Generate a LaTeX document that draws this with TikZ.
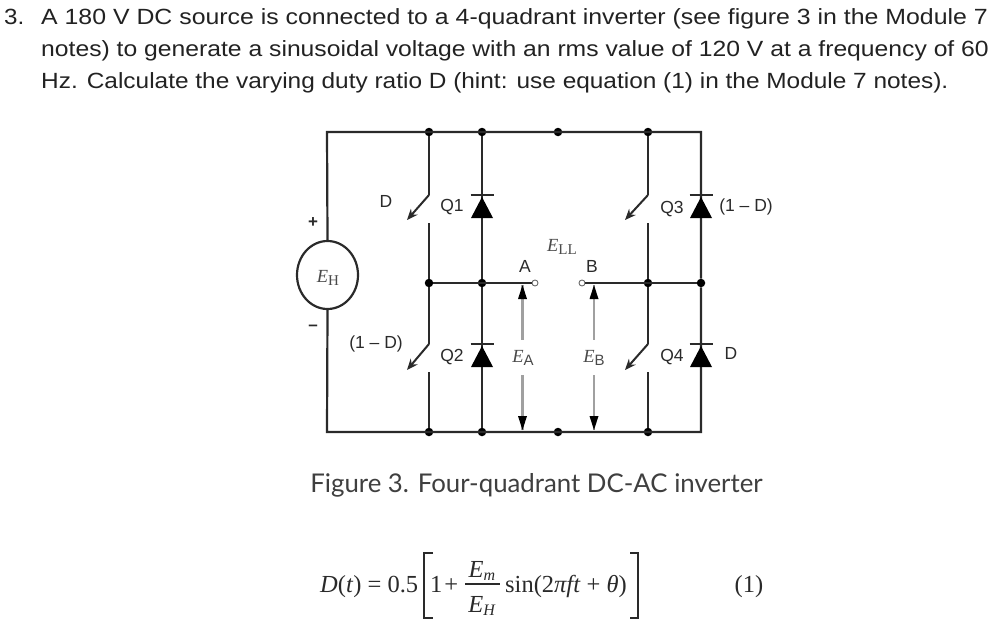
\documentclass[tikz,border=0pt]{standalone}
\usepackage{fontspec}
\setmainfont{Liberation Sans}
\newfontfamily\capfont{Lato}
\newfontfamily\eqfont{Liberation Serif}
\usetikzlibrary{arrows.meta,shapes.geometric}
\definecolor{ink}{HTML}{2A2A2A}
\definecolor{txt}{HTML}{222222}
\definecolor{shaft}{HTML}{A0A0A0}
\newcommand{\subsc}[1]{\raisebox{-2.5pt}{\fontsize{15}{16}\selectfont #1}}
\tikzset{
 x=1pt,y=-1pt,
 wire/.style={draw=ink,line width=2.2pt},
 dot/.style={circle,fill=black,inner sep=0pt,minimum size=8.5pt},
 term/.style={circle,draw=ink!70,fill=white,line width=.9pt,inner sep=0pt,minimum size=6pt},
 para/.style={font=\fontsize{22}{24}\selectfont,text=txt,anchor=base west,inner sep=0pt},
 lab/.style={font=\fontsize{17.5}{20}\selectfont,text=ink,inner sep=0pt},
 vlab/.style={font=\fontsize{18.5}{20}\selectfont\eqfont,text=ink!85,inner sep=0pt},
 eq/.style={font=\fontsize{24.5}{26}\selectfont\eqfont,text=ink,inner sep=0pt,anchor=base},
 blade/.style={draw=ink,line width=2pt,-{Stealth[length=11pt,width=9pt]}},
 meas/.style={draw=shaft,line width=2.2pt},
 bracket/.style={draw=ink,line width=1.4pt},
 diode/.pic={\fill[black] (0,2)--(11,23)--(-11,23)--cycle; \draw[ink,line width=2pt] (-11.5,0)--(11.5,0);},
 uphead/.pic={\fill[black] (0,0)--(4.5,14)--(-4.5,14)--cycle;},
 downhead/.pic={\fill[black] (0,0)--(4.5,-14)--(-4.5,-14)--cycle;},
}
\begin{document}
\begin{tikzpicture}
\useasboundingbox (0,0) rectangle (992,624);
% question text
\node[para] at (4,24) {\addfontfeature{FakeStretch=1.1}3.};
\node[para] at (41,24) {\addfontfeature{FakeStretch=1.13}A 180 V DC source is connected to a 4-quadrant inverter (see figure 3 in the Module 7};
\node[para] at (41,56) {\addfontfeature{FakeStretch=1.123}notes) to generate a sinusoidal voltage with an rms value of 120 V at a frequency of 60};
\node[para] at (41,88) {\addfontfeature{FakeStretch=1.11}Hz. Calculate the varying duty ratio D (hint: use equation (1) in the Module 7 notes).};
% frame coordinates
\coordinate (tl) at (327,132); \coordinate (tr) at (701,132);
\coordinate (bl) at (327,432); \coordinate (br) at (701,432);
\node[dot] (t1) at (429,132) {}; \node[dot] (t2) at (482,132) {};
\node[dot] (t3) at (558,132) {}; \node[dot] (t4) at (648,132) {};
\node[dot] (b1) at (429,432) {}; \node[dot] (b2) at (482,432) {};
\node[dot] (b3) at (558,432) {}; \node[dot] (b4) at (648,432) {};
\node[dot] (m1) at (429,283) {}; \node[dot] (m2) at (482,283) {};
\node[dot] (m3) at (648,283) {}; \node[dot] (m4) at (701,283) {};
\node[term] (ta) at (535,283) {}; \node[term] (tb) at (582,283) {};
% source
\node[draw=ink,line width=2.2pt,ellipse,minimum width=61pt,minimum height=68pt,inner sep=0pt] (src) at (327.5,275) {};
\node[vlab] at (328,278) {\textit{E}\subsc{H}};
% frame wires
\draw[wire,line join=miter] (src.north) -- (tl) -- (tr) -- (m4) -- (br) -- (bl) -- (src.south);
\draw[wire] (t2) -- (m2) -- (b2);
\draw[wire] (m1) -- (ta);
\draw[wire] (tb) -- (m4);
% switches
\coordinate (s1a) at (429,195); \coordinate (s1b) at (429,223); \coordinate (s1c) at (407,220);
\coordinate (s2a) at (429,344); \coordinate (s2b) at (429,372); \coordinate (s2c) at (407,370);
\coordinate (s3a) at (648,195); \coordinate (s3b) at (648,223); \coordinate (s3c) at (625,220);
\coordinate (s4a) at (648,344); \coordinate (s4b) at (648,372); \coordinate (s4c) at (625,370);
\draw[wire] (t1) -- (s1a); \draw[blade] (s1a) -- (s1c); \draw[wire] (s1b) -- (m1);
\draw[wire] (m1) -- (s2a); \draw[blade] (s2a) -- (s2c); \draw[wire] (s2b) -- (b1);
\draw[wire] (t4) -- (s3a); \draw[blade] (s3a) -- (s3c); \draw[wire] (s3b) -- (m3);
\draw[wire] (m3) -- (s4a); \draw[blade] (s4a) -- (s4c); \draw[wire] (s4b) -- (b4);
% diodes
\pic at (482,195) {diode}; \pic at (482,344) {diode};
\pic at (701,195) {diode}; \pic at (701,344) {diode};
% measuring arrows
\coordinate (a1) at (522.5,285); \coordinate (a2) at (522.5,340); \coordinate (a3) at (522.5,375); \coordinate (a4) at (522.5,430);
\coordinate (c1) at (594,285); \coordinate (c2) at (594,340); \coordinate (c3) at (594,375); \coordinate (c4) at (594,430);
\draw[meas] (a1) -- (a2); \draw[meas] (a3) -- (a4);
\draw[meas] (c1) -- (c2); \draw[meas] (c3) -- (c4);
\pic at (a1) {uphead}; \pic at (a4) {downhead};
\pic at (c1) {uphead}; \pic at (c4) {downhead};
% labels
\node[lab] at (386,201) {D};
\node[lab] at (452,207) {Q1};
\node[lab] at (376,344) {(1 – D)};
\node[lab] at (452,357) {Q2};
\node[lab] at (672,209) {Q3};
\node[lab] at (746,207) {(1 – D)};
\node[lab] at (672,357) {Q4};
\node[lab] at (731,353) {D};
\node[lab,font=\fontsize{17}{18}\selectfont\bfseries] at (313,223) {+};
\node[lab,font=\fontsize{17}{18}\selectfont\bfseries] at (313,328) {–};
\node[lab] at (525,266) {A};
\node[lab] at (592,266) {B};
\node[vlab] at (562,247) {\textit{E}\subsc{LL}};
\node[vlab] at (523,358) {\textit{E}\subsc{\fontfamily{\familydefault}\selectfont A}};
\node[vlab] at (594,358) {\textit{E}\subsc{\fontfamily{\familydefault}\selectfont B}};
% caption
\node[font=\fontsize{25.8}{28}\selectfont\capfont,text=ink!90,inner sep=0pt,anchor=base] at (536.5,492) {Figure 3. Four-quadrant DC-AC inverter};
% equation
\node[eq,anchor=base west] at (320,592) {\textit{D}(\textit{t}) = 0.5};
\node[eq,anchor=base west] at (430,592) {1\kern2pt+};
\node[eq,anchor=base] at (482,577) {\textit{E}\raisebox{-3pt}{\fontsize{16}{17}\selectfont\textit{m}}};
\node[eq,anchor=base] at (482,612) {\textit{E}\raisebox{-3pt}{\fontsize{16}{17}\selectfont\textit{H}}};
\coordinate (fl) at (465,584); \coordinate (fr) at (500,584);
\draw[bracket] (fl) -- (fr);
\node[eq,anchor=base west] at (505,592) {sin(2\textit{πft} + \textit{θ})};
\coordinate (lb1) at (433,553); \coordinate (lb2) at (424,553); \coordinate (lb3) at (424,618); \coordinate (lb4) at (433,618);
\coordinate (rb1) at (630,553); \coordinate (rb2) at (638,553); \coordinate (rb3) at (638,618); \coordinate (rb4) at (630,618);
\draw[bracket] (lb1) -- (lb2) -- (lb3) -- (lb4);
\draw[bracket] (rb1) -- (rb2) -- (rb3) -- (rb4);
\node[eq,anchor=base] at (749,592) {(1)};
\end{tikzpicture}
\end{document}
